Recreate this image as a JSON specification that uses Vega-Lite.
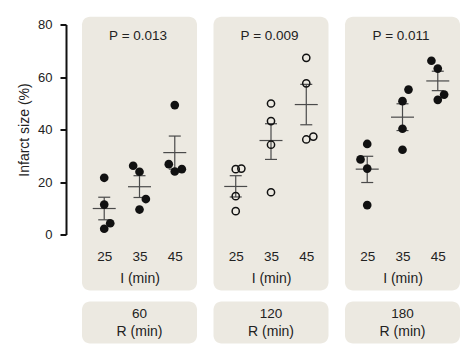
{
  "$schema": "https://vega.github.io/schema/vega-lite/v6.json",
  "padding": {"left": 17, "top": 16.5, "right": 5, "bottom": 5},
  "background": "white",
  "spacing": 16.5,
  "datasets": {
    "panels": [
      {"R": 60, "P": "P = 0.013"},
      {"R": 120, "P": "P = 0.009"},
      {"R": 180, "P": "P = 0.011"}
    ],
    "stats": [
      {"R": 60, "I": 25, "mean": 9.9, "lo": 5.6, "hi": 14.2},
      {"R": 60, "I": 35, "mean": 18.2, "lo": 14.1, "hi": 22.4},
      {"R": 60, "I": 45, "mean": 31.2, "lo": 24.9, "hi": 37.5},
      {"R": 120, "I": 25, "mean": 18.3, "lo": 14.3, "hi": 22.4},
      {"R": 120, "I": 35, "mean": 35.8, "lo": 28.6, "hi": 42.2},
      {"R": 120, "I": 45, "mean": 49.5, "lo": 41.8, "hi": 57.2},
      {"R": 180, "I": 25, "mean": 24.9, "lo": 19.8, "hi": 29.8},
      {"R": 180, "I": 35, "mean": 44.7, "lo": 39.6, "hi": 49.8},
      {"R": 180, "I": 45, "mean": 58.5, "lo": 54.8, "hi": 62.2}
    ],
    "points": [
      {"R": 60, "Ij": 25, "v": 21.6}, {"R": 60, "Ij": 25, "v": 11.4}, {"R": 60, "Ij": 26.7, "v": 4.3}, {"R": 60, "Ij": 25, "v": 2.2},
      {"R": 60, "Ij": 33.2, "v": 26.2}, {"R": 60, "Ij": 35, "v": 23.9}, {"R": 60, "Ij": 36.8, "v": 13.5}, {"R": 60, "Ij": 35, "v": 9.5},
      {"R": 60, "Ij": 45, "v": 49.3}, {"R": 60, "Ij": 43.3, "v": 26.8}, {"R": 60, "Ij": 45, "v": 24.0}, {"R": 60, "Ij": 47, "v": 24.9},
      {"R": 120, "Ij": 25, "v": 24.9}, {"R": 120, "Ij": 26.6, "v": 25.1}, {"R": 120, "Ij": 25, "v": 14.6}, {"R": 120, "Ij": 25, "v": 8.9},
      {"R": 120, "Ij": 35, "v": 49.9}, {"R": 120, "Ij": 35, "v": 43.2}, {"R": 120, "Ij": 35, "v": 34.2}, {"R": 120, "Ij": 35, "v": 16.1},
      {"R": 120, "Ij": 45, "v": 67.3}, {"R": 120, "Ij": 45, "v": 57.6}, {"R": 120, "Ij": 45, "v": 36.2}, {"R": 120, "Ij": 47, "v": 37.3},
      {"R": 180, "Ij": 25, "v": 34.5}, {"R": 180, "Ij": 23.1, "v": 28.6}, {"R": 180, "Ij": 25, "v": 25.1}, {"R": 180, "Ij": 25, "v": 11.2},
      {"R": 180, "Ij": 36.7, "v": 55.2}, {"R": 180, "Ij": 35, "v": 50.8}, {"R": 180, "Ij": 35, "v": 40.3}, {"R": 180, "Ij": 35, "v": 32.3},
      {"R": 180, "Ij": 43.2, "v": 66.2}, {"R": 180, "Ij": 45, "v": 63.2}, {"R": 180, "Ij": 46.8, "v": 53.3}, {"R": 180, "Ij": 45, "v": 51.3}
    ]
  },
  "hconcat": [
    {
      "width": 115, "height": 210,
      "layer": [
        {"data": {"name": "panels"}, "transform": [{"filter": "datum.R == 60"}],
         "mark": {"type": "rect", "fill": "#ECE9E1", "cornerRadius": 8, "clip": false},
         "encoding": {
           "x": {"datum": 18.7, "type": "quantitative", "scale": {"domain": [18.7, 51.3], "nice": false, "zero": false}, "axis": {"values": [25, 35, 45], "title": "I (min)", "zindex": 2}},
           "x2": {"datum": 51.3},
           "y": {"datum": 83, "type": "quantitative", "scale": {"domain": [0, 80], "nice": false, "zero": false}, "axis": {"values": [0, 20, 40, 60, 80], "title": "Infarct size (%)", "zindex": 2}},
           "y2": {"datum": -21.3}}},
        {"data": {"name": "panels"}, "transform": [{"filter": "datum.R == 60"}],
         "mark": {"type": "rect", "fill": "#ECE9E1", "cornerRadius": 8, "clip": false},
         "encoding": {"x": {"datum": 18.7, "type": "quantitative"}, "x2": {"datum": 51.3}, "y": {"datum": -25.5, "type": "quantitative"}, "y2": {"datum": -41.5}}},
        {"data": {"name": "panels"}, "transform": [{"filter": "datum.R == 60"}],
         "mark": {"type": "text", "fontSize": 13.5, "color": "#222", "baseline": "middle", "clip": false},
         "encoding": {"x": {"datum": 34.6, "type": "quantitative"}, "y": {"datum": 75.5, "type": "quantitative"}, "text": {"field": "P"}}},
        {"data": {"name": "panels"}, "transform": [{"filter": "datum.R == 60"}],
         "mark": {"type": "text", "fontSize": 13.5, "color": "#222", "baseline": "middle", "clip": false},
         "encoding": {"x": {"datum": 35, "type": "quantitative"}, "y": {"datum": -30.4, "type": "quantitative"}, "text": {"field": "R"}}},
        {"data": {"name": "panels"}, "transform": [{"filter": "datum.R == 60"}],
         "mark": {"type": "text", "text": "R (min)", "fontSize": 14, "color": "#222", "baseline": "middle", "clip": false},
         "encoding": {"x": {"datum": 35, "type": "quantitative"}, "y": {"datum": -37.1, "type": "quantitative"}}},
        {"data": {"name": "stats"}, "transform": [{"filter": "datum.R == 60"}],
         "mark": {"type": "rule", "color": "#4a4a4a", "strokeWidth": 1.2},
         "encoding": {"x": {"field": "I", "type": "quantitative", "title": "I (min)"}, "y": {"field": "lo", "type": "quantitative", "title": "Infarct size (%)"}, "y2": {"field": "hi"}}},
        {"data": {"name": "stats"}, "transform": [{"filter": "datum.R == 60"}],
         "mark": {"type": "tick", "orient": "horizontal", "size": 23, "thickness": 1.2, "color": "#4a4a4a", "opacity": 1},
         "encoding": {"x": {"field": "I", "type": "quantitative", "title": "I (min)"}, "y": {"field": "mean", "type": "quantitative", "title": "Infarct size (%)"}}},
        {"data": {"name": "stats"}, "transform": [{"filter": "datum.R == 60"}],
         "mark": {"type": "tick", "orient": "horizontal", "size": 12, "thickness": 1.2, "color": "#4a4a4a", "opacity": 1},
         "encoding": {"x": {"field": "I", "type": "quantitative", "title": "I (min)"}, "y": {"field": "lo", "type": "quantitative", "title": "Infarct size (%)"}}},
        {"data": {"name": "stats"}, "transform": [{"filter": "datum.R == 60"}],
         "mark": {"type": "tick", "orient": "horizontal", "size": 12, "thickness": 1.2, "color": "#4a4a4a", "opacity": 1},
         "encoding": {"x": {"field": "I", "type": "quantitative", "title": "I (min)"}, "y": {"field": "hi", "type": "quantitative", "title": "Infarct size (%)"}}},
        {"data": {"name": "points"}, "transform": [{"filter": "datum.R == 60"}],
         "mark": {"type": "point", "shape": "circle", "filled": true, "size": 75, "color": "#111", "opacity": 1},
         "encoding": {"x": {"field": "Ij", "type": "quantitative", "title": "I (min)"}, "y": {"field": "v", "type": "quantitative", "title": "Infarct size (%)"}}}
      ]
    },
    {
      "width": 115, "height": 210,
      "layer": [
        {"data": {"name": "panels"}, "transform": [{"filter": "datum.R == 120"}],
         "mark": {"type": "rect", "fill": "#ECE9E1", "cornerRadius": 8, "clip": false},
         "encoding": {
           "x": {"datum": 18.7, "type": "quantitative", "scale": {"domain": [18.7, 51.3], "nice": false, "zero": false}, "axis": {"values": [25, 35, 45], "title": "I (min)", "zindex": 2}},
           "x2": {"datum": 51.3},
           "y": {"datum": 83, "type": "quantitative", "scale": {"domain": [0, 80], "nice": false, "zero": false}, "axis": null},
           "y2": {"datum": -21.3}}},
        {"data": {"name": "panels"}, "transform": [{"filter": "datum.R == 120"}],
         "mark": {"type": "rect", "fill": "#ECE9E1", "cornerRadius": 8, "clip": false},
         "encoding": {"x": {"datum": 18.7, "type": "quantitative"}, "x2": {"datum": 51.3}, "y": {"datum": -25.5, "type": "quantitative", "axis": null}, "y2": {"datum": -41.5}}},
        {"data": {"name": "panels"}, "transform": [{"filter": "datum.R == 120"}],
         "mark": {"type": "text", "fontSize": 13.5, "color": "#222", "baseline": "middle", "clip": false},
         "encoding": {"x": {"datum": 34.6, "type": "quantitative"}, "y": {"datum": 75.5, "type": "quantitative", "axis": null}, "text": {"field": "P"}}},
        {"data": {"name": "panels"}, "transform": [{"filter": "datum.R == 120"}],
         "mark": {"type": "text", "fontSize": 13.5, "color": "#222", "baseline": "middle", "clip": false},
         "encoding": {"x": {"datum": 35, "type": "quantitative"}, "y": {"datum": -30.4, "type": "quantitative", "axis": null}, "text": {"field": "R"}}},
        {"data": {"name": "panels"}, "transform": [{"filter": "datum.R == 120"}],
         "mark": {"type": "text", "text": "R (min)", "fontSize": 14, "color": "#222", "baseline": "middle", "clip": false},
         "encoding": {"x": {"datum": 35, "type": "quantitative"}, "y": {"datum": -37.1, "type": "quantitative", "axis": null}}},
        {"data": {"name": "stats"}, "transform": [{"filter": "datum.R == 120"}],
         "mark": {"type": "rule", "color": "#4a4a4a", "strokeWidth": 1.2},
         "encoding": {"x": {"field": "I", "type": "quantitative", "title": "I (min)"}, "y": {"field": "lo", "type": "quantitative", "axis": null}, "y2": {"field": "hi"}}},
        {"data": {"name": "stats"}, "transform": [{"filter": "datum.R == 120"}],
         "mark": {"type": "tick", "orient": "horizontal", "size": 23, "thickness": 1.2, "color": "#4a4a4a", "opacity": 1},
         "encoding": {"x": {"field": "I", "type": "quantitative", "title": "I (min)"}, "y": {"field": "mean", "type": "quantitative", "axis": null}}},
        {"data": {"name": "stats"}, "transform": [{"filter": "datum.R == 120"}],
         "mark": {"type": "tick", "orient": "horizontal", "size": 12, "thickness": 1.2, "color": "#4a4a4a", "opacity": 1},
         "encoding": {"x": {"field": "I", "type": "quantitative", "title": "I (min)"}, "y": {"field": "lo", "type": "quantitative", "axis": null}}},
        {"data": {"name": "stats"}, "transform": [{"filter": "datum.R == 120"}],
         "mark": {"type": "tick", "orient": "horizontal", "size": 12, "thickness": 1.2, "color": "#4a4a4a", "opacity": 1},
         "encoding": {"x": {"field": "I", "type": "quantitative", "title": "I (min)"}, "y": {"field": "hi", "type": "quantitative", "axis": null}}},
        {"data": {"name": "points"}, "transform": [{"filter": "datum.R == 120"}],
         "mark": {"type": "point", "shape": "circle", "filled": false, "size": 52, "stroke": "#111", "strokeWidth": 1.5, "opacity": 1},
         "encoding": {"x": {"field": "Ij", "type": "quantitative", "title": "I (min)"}, "y": {"field": "v", "type": "quantitative", "axis": null}}}
      ]
    },
    {
      "width": 115, "height": 210,
      "layer": [
        {"data": {"name": "panels"}, "transform": [{"filter": "datum.R == 180"}],
         "mark": {"type": "rect", "fill": "#ECE9E1", "cornerRadius": 8, "clip": false},
         "encoding": {
           "x": {"datum": 18.7, "type": "quantitative", "scale": {"domain": [18.7, 51.3], "nice": false, "zero": false}, "axis": {"values": [25, 35, 45], "title": "I (min)", "zindex": 2}},
           "x2": {"datum": 51.3},
           "y": {"datum": 83, "type": "quantitative", "scale": {"domain": [0, 80], "nice": false, "zero": false}, "axis": null},
           "y2": {"datum": -21.3}}},
        {"data": {"name": "panels"}, "transform": [{"filter": "datum.R == 180"}],
         "mark": {"type": "rect", "fill": "#ECE9E1", "cornerRadius": 8, "clip": false},
         "encoding": {"x": {"datum": 18.7, "type": "quantitative"}, "x2": {"datum": 51.3}, "y": {"datum": -25.5, "type": "quantitative", "axis": null}, "y2": {"datum": -41.5}}},
        {"data": {"name": "panels"}, "transform": [{"filter": "datum.R == 180"}],
         "mark": {"type": "text", "fontSize": 13.5, "color": "#222", "baseline": "middle", "clip": false},
         "encoding": {"x": {"datum": 34.6, "type": "quantitative"}, "y": {"datum": 75.5, "type": "quantitative", "axis": null}, "text": {"field": "P"}}},
        {"data": {"name": "panels"}, "transform": [{"filter": "datum.R == 180"}],
         "mark": {"type": "text", "fontSize": 13.5, "color": "#222", "baseline": "middle", "clip": false},
         "encoding": {"x": {"datum": 35, "type": "quantitative"}, "y": {"datum": -30.4, "type": "quantitative", "axis": null}, "text": {"field": "R"}}},
        {"data": {"name": "panels"}, "transform": [{"filter": "datum.R == 180"}],
         "mark": {"type": "text", "text": "R (min)", "fontSize": 14, "color": "#222", "baseline": "middle", "clip": false},
         "encoding": {"x": {"datum": 35, "type": "quantitative"}, "y": {"datum": -37.1, "type": "quantitative", "axis": null}}},
        {"data": {"name": "stats"}, "transform": [{"filter": "datum.R == 180"}],
         "mark": {"type": "rule", "color": "#4a4a4a", "strokeWidth": 1.2},
         "encoding": {"x": {"field": "I", "type": "quantitative", "title": "I (min)"}, "y": {"field": "lo", "type": "quantitative", "axis": null}, "y2": {"field": "hi"}}},
        {"data": {"name": "stats"}, "transform": [{"filter": "datum.R == 180"}],
         "mark": {"type": "tick", "orient": "horizontal", "size": 23, "thickness": 1.2, "color": "#4a4a4a", "opacity": 1},
         "encoding": {"x": {"field": "I", "type": "quantitative", "title": "I (min)"}, "y": {"field": "mean", "type": "quantitative", "axis": null}}},
        {"data": {"name": "stats"}, "transform": [{"filter": "datum.R == 180"}],
         "mark": {"type": "tick", "orient": "horizontal", "size": 12, "thickness": 1.2, "color": "#4a4a4a", "opacity": 1},
         "encoding": {"x": {"field": "I", "type": "quantitative", "title": "I (min)"}, "y": {"field": "lo", "type": "quantitative", "axis": null}}},
        {"data": {"name": "stats"}, "transform": [{"filter": "datum.R == 180"}],
         "mark": {"type": "tick", "orient": "horizontal", "size": 12, "thickness": 1.2, "color": "#4a4a4a", "opacity": 1},
         "encoding": {"x": {"field": "I", "type": "quantitative", "title": "I (min)"}, "y": {"field": "hi", "type": "quantitative", "axis": null}}},
        {"data": {"name": "points"}, "transform": [{"filter": "datum.R == 180"}],
         "mark": {"type": "point", "shape": "circle", "filled": true, "size": 75, "color": "#111", "opacity": 1},
         "encoding": {"x": {"field": "Ij", "type": "quantitative", "title": "I (min)"}, "y": {"field": "v", "type": "quantitative", "axis": null}}}
      ]
    }
  ],
  "config": {
    "view": {"stroke": null},
    "font": "Liberation Sans",
    "text": {"font": "Liberation Sans"},
    "axis": {"grid": false, "labelFont": "Liberation Sans", "titleFont": "Liberation Sans", "labelColor": "#222", "titleColor": "#222", "titleFontWeight": "normal"},
    "axisX": {"domain": false, "ticks": false, "tickSize": 0, "labelFontSize": 13.5, "titleFontSize": 14, "labelPadding": 15, "titlePadding": 8, "labelFlush": false},
    "axisY": {"domainColor": "#111", "domainWidth": 2, "tickColor": "#111", "tickWidth": 2, "tickSize": 6, "labelFontSize": 13, "titleFontSize": 14, "labelPadding": 8, "offset": 16, "titlePadding": 6}
  }
}
